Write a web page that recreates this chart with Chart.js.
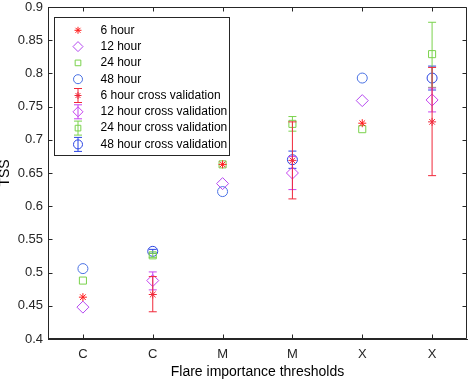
<!DOCTYPE html>
<html><head><meta charset="utf-8">
<script src="https://cdn.jsdelivr.net/npm/chart.js@4/dist/chart.umd.min.js"></script>
<style>html,body{margin:0;padding:0;background:#fff}#wrap{width:474px;height:381px;position:relative}</style>
</head><body><div id="wrap"><canvas id="c" width="474" height="381"></canvas></div>
<script>
// ---- data ----
const tickLabels = ['C','C','M','M','X','X'];
const yTickValues = [0.4,0.45,0.5,0.55,0.6,0.65,0.7,0.75,0.8,0.85,0.9];
const seriesNames = ['6 hour','12 hour','24 hour','48 hour',
  '6 hour cross validation','12 hour cross validation','24 hour cross validation','48 hour cross validation'];
const singleX = [1,3,5];
const cvX = [2,4,6];
const tss6  = [0.463,0.663,0.725];
const tss12 = [0.448,0.634,0.759];
const tss24 = [0.488,0.663,0.716];
const tss48 = [0.506,0.622,0.793];
const cv6  = [0.467,0.669,0.727];
const cv12 = [0.488,0.650,0.760];
const cv24 = [0.526,0.724,0.829];
const cv48 = [0.532,0.670,0.793];
const cv6Low  = [0.441,0.611,0.646];
const cv6High = [0.494,0.727,0.809];
const cv12Low  = [0.474,0.625,0.742];
const cv12High = [0.501,0.675,0.778];
const cv24Low  = [0.523,0.713,0.779];
const cv24High = [0.529,0.735,0.877];
const cv48Low  = [0.529,0.657,0.775];
const cv48High = [0.535,0.683,0.811];

// ---- styles ----
const colors   = ['#ff1a1a','#b548f0','#7ad24c','#4a72e4'];
const cvColors = ['#f0283a','#c743f0','#7ad24c','#2a44e4'];
const styles = ['star','rectRot','rect','circle'];
const radii  = [4,6,5,5];
const legendRadii = [3.5,5,4,4.5];
const FONT = "'Liberation Sans', Arial, sans-serif";
const AXIS = '#262626';

function pts(xs, ys){ return xs.map((x,i)=>({x:x, y:ys[i]})); }
const singles = [tss6,tss12,tss24,tss48];
const cvs = [cv6,cv12,cv24,cv48];
const lows = [cv6Low,cv12Low,cv24Low,cv48Low];
const highs = [cv6High,cv12High,cv24High,cv48High];

const datasets = [];
singles.forEach((s,i)=>datasets.push({
  label: seriesNames[i], data: pts(singleX,s), showLine:false,
  pointStyle: styles[i], pointRadius: radii[i], pointHoverRadius: radii[i],
  borderColor: colors[i], backgroundColor:'rgba(0,0,0,0)', pointBorderWidth:1,
  legendRadius: legendRadii[i]
}));
cvs.forEach((s,i)=>datasets.push({
  label: seriesNames[4+i], data: pts(cvX,s), showLine:false,
  pointStyle: styles[i], pointRadius: radii[i], pointHoverRadius: radii[i],
  borderColor: cvColors[i], backgroundColor:'rgba(0,0,0,0)', pointBorderWidth:1,
  errLow: lows[i], errHigh: highs[i], legendRadius: legendRadii[i]
}));

const errorBars = {
  id:'errorBars',
  beforeDatasetDraw(chart,args){
    const ds = chart.data.datasets[args.index];
    if(!ds.errLow) return;
    const {ctx} = chart, x = chart.scales.x, y = chart.scales.y;
    ctx.save(); ctx.strokeStyle = ds.borderColor; ctx.lineWidth = 1;
    ds.data.forEach((p,i)=>{
      const px = x.getPixelForValue(p.x);
      const y1 = y.getPixelForValue(ds.errLow[i]), y2 = y.getPixelForValue(ds.errHigh[i]);
      ctx.beginPath();
      ctx.moveTo(px,y1); ctx.lineTo(px,y2);
      ctx.moveTo(px-4,y1); ctx.lineTo(px+4,y1);
      ctx.moveTo(px-4,y2); ctx.lineTo(px+4,y2);
      ctx.stroke();
    });
    ctx.restore();
  }
};

const frame = {
  id:'frame',
  afterDatasetsDraw(chart){
    const {ctx, chartArea:a} = chart, x = chart.scales.x, y = chart.scales.y;
    ctx.save(); ctx.strokeStyle = AXIS; ctx.lineWidth = 1;
    const L = Math.round(a.left)+0.5, R = Math.round(a.right)-0.5, T = Math.round(a.top)+0.5, B = Math.round(a.bottom)-0.5;
    ctx.beginPath();
    ctx.moveTo(L,B); ctx.lineTo(L,T); ctx.lineTo(R,T); ctx.lineTo(R,B); ctx.lineTo(L,B);
    x.ticks.forEach(t=>{
      const px = Math.round(x.getPixelForValue(t.value))+0.5;
      ctx.moveTo(px,B); ctx.lineTo(px,B-4);
      ctx.moveTo(px,T); ctx.lineTo(px,T+4);
    });
    y.ticks.forEach(t=>{
      const py = Math.round(y.getPixelForValue(t.value))+0.5;
      ctx.moveTo(L,py); ctx.lineTo(L+4,py);
      ctx.moveTo(R,py); ctx.lineTo(R-4,py);
    });
    ctx.stroke();
    ctx.restore();
  }
};

const legendBox = {
  id:'legendBox',
  afterDraw(chart){
    const {ctx, chartArea:a} = chart;
    const bx = a.left + 6.5, by = a.top + 10.5, bw = 175, bh = 138;
    ctx.save();
    ctx.fillStyle = '#fff'; ctx.fillRect(bx,by,bw,bh);
    ctx.strokeStyle = AXIS; ctx.lineWidth = 1; ctx.strokeRect(bx,by,bw,bh);
    ctx.font = '12px ' + FONT; ctx.textBaseline = 'middle'; ctx.textAlign = 'left';
    chart.data.datasets.forEach((ds,i)=>{
      const cy = by + 12.8 + i*16.3, mx = bx + 23.5;
      ctx.strokeStyle = ds.borderColor; ctx.fillStyle = 'rgba(0,0,0,0)'; ctx.lineWidth = 1;
      if(ds.errLow){
        ctx.beginPath();
        ctx.moveTo(mx,cy-7); ctx.lineTo(mx,cy+7);
        ctx.moveTo(mx-4,cy-7); ctx.lineTo(mx+4,cy-7);
        ctx.moveTo(mx-4,cy+7); ctx.lineTo(mx+4,cy+7);
        ctx.stroke();
      }
      Chart.helpers.drawPoint(ctx,{pointStyle:ds.pointStyle, radius:ds.legendRadius, borderWidth:1, rotation:0}, mx, cy);
      ctx.fillStyle = '#000';
      ctx.fillText(ds.label, bx + 46, cy);
    });
    ctx.restore();
  }
};

new Chart(document.getElementById('c'), {
  type:'scatter',
  data:{datasets:datasets},
  plugins:[errorBars, frame, legendBox],
  options:{
    responsive:false, animation:false,
    layout:{padding:{left:0,right:3,top:4,bottom:0}},
    plugins:{legend:{display:false}, tooltip:{enabled:false}},
    scales:{
      x:{
        type:'linear', min:0.5, max:6.5,
        afterBuildTicks(s){ s.ticks = tickLabels.map((_,i)=>({value:i+1})); },
        afterFit(s){ s.height = 42; s.paddingLeft = 0; s.paddingRight = 0; },
        ticks:{ padding:8, color:AXIS, font:{family:FONT,size:13}, autoSkip:false, maxRotation:0,
          callback:(v)=>tickLabels[Math.round(v)-1] },
        grid:{display:false, drawTicks:false},
        border:{display:true, color:AXIS},
        title:{display:true, text:'Flare importance thresholds', color:'#000', font:{family:FONT,size:14}, padding:{top:0,bottom:0}}
      },
      y:{
        type:'linear', min:0.4, max:0.9,
        afterBuildTicks(s){ s.ticks = yTickValues.map(v=>({value:v})); },
        afterFit(s){ s.width = 48; s.paddingTop = 0; s.paddingBottom = 0; },
        ticks:{ padding:5, color:AXIS, font:{family:FONT,size:13},
          callback:(v)=>String(+v.toFixed(2)) },
        grid:{display:false, drawTicks:false},
        border:{display:true, color:AXIS},
        title:{display:true, text:'TSS', color:'#000', font:{family:FONT,size:14}, padding:{top:-3,bottom:0}}
      }
    }
  }
});
</script></body></html>
